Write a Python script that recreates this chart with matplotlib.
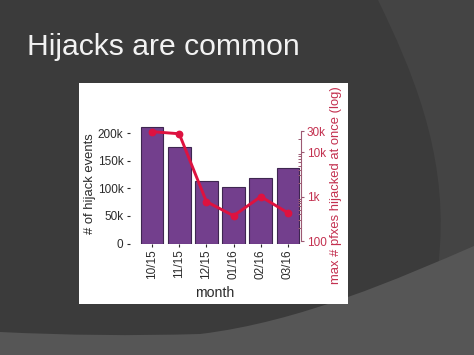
import matplotlib
matplotlib.use("Agg")
import matplotlib.pyplot as plt
from matplotlib.patches import Rectangle, PathPatch
from matplotlib.path import Path
from matplotlib.ticker import FixedLocator, FuncFormatter
import numpy as np

plt.rcParams['font.family'] = ['Liberation Sans', 'DejaVu Sans']

months = ["10/15", "11/15", "12/15", "01/16", "02/16", "03/16"]
hijack_events = [212000, 176000, 113000, 102000, 119000, 138000]
max_pfxes = [29000, 26000, 770, 370, 1000, 430]
left_ticks = [0, 50000, 100000, 150000, 200000]
left_labels = ["0", "50k", "100k", "150k", "200k"]
right_ticks = [100, 1000, 10000, 30000]
right_labels = ["100", "1k", "10k", "30k"]

W, H = 474, 355
fig = plt.figure(figsize=(W / 100, H / 100), dpi=100)
fig.patch.set_facecolor('#3b3b3b')

def fx(x):
    return x / W

def fy(y):
    return 1 - y / H

def P(x, y):
    return (fx(x), fy(y))

# background decorative shapes (smooth curves)
arc_verts = [P(378, 0), P(412, 70), P(446, 150), P(440, 245),
             P(436, 300), P(474, 300), P(474, 0), P(378, 0)]
arc_codes = [Path.MOVETO, Path.CURVE4, Path.CURVE4, Path.CURVE4,
             Path.LINETO, Path.LINETO, Path.LINETO, Path.CLOSEPOLY]
fig.patches.append(PathPatch(Path(arc_verts, arc_codes), transform=fig.transFigure,
                             facecolor='#444444', edgecolor='none', zorder=0))
band_verts = [P(0, 332), P(100, 337), P(200, 334),
              P(300, 322), P(400, 278), P(474, 246),
              P(474, 355), P(0, 355), P(0, 332)]
band_codes = [Path.MOVETO, Path.CURVE3, Path.CURVE3,
              Path.CURVE4, Path.CURVE4, Path.CURVE4,
              Path.LINETO, Path.LINETO, Path.CLOSEPOLY]
fig.patches.append(PathPatch(Path(band_verts, band_codes), transform=fig.transFigure,
                             facecolor='#565656', edgecolor='none', zorder=0))

# white panel
fig.patches.append(Rectangle(P(79, 304), fx(348) - fx(79), fy(83) - fy(304),
                             transform=fig.transFigure, facecolor='white',
                             edgecolor='none', zorder=1))

fig.text(fx(27), fy(55), "Hijacks are common", color='#f2f2f2', fontsize=21.7,
         ha='left', va='baseline')

# axes
axl, axr, ayt, ayb = 130, 300.5, 122, 243.5
ax = fig.add_axes([fx(axl), fy(ayb), fx(axr) - fx(axl), fy(ayt) - fy(ayb)])
ax.set_zorder(2)
ax.patch.set_visible(False)

x = np.arange(len(months))
ax.bar(x, hijack_events, width=0.835, color='#733f8d', edgecolor='#3e2650', linewidth=0.8)
ax.set_xlim(-0.809, 5.46)
ax.set_ylim(0, 220900)
for s in ['top', 'right', 'left', 'bottom']:
    ax.spines[s].set_visible(False)
ax.set_yticks(left_ticks)
ax.set_yticklabels(left_labels)
ax.set_xticks(x)
ax.set_xticklabels(months, rotation=90)
ax.tick_params(axis='y', length=2.2, width=0.8, pad=2.5, labelsize=8.5, colors='#2b2b2b')
ax.tick_params(axis='x', length=2.2, width=0.8, pad=2.0, labelsize=8.5, colors='#2b2b2b')

ax2 = ax.twinx()
ax2.set_yscale('log')
ax2.set_ylim(10 ** 1.9437, 10 ** 4.680)
ax2.plot(x, max_pfxes, color='#dd1240', linewidth=2.1, marker='o', markersize=4.6)
for s in ['top', 'left', 'bottom']:
    ax2.spines[s].set_visible(False)
ax2.spines['right'].set_bounds(100, 30000)
ax2.spines['right'].set_color('#9c5a72')
ax2.spines['right'].set_linewidth(0.8)
ax2.yaxis.set_major_locator(FixedLocator(right_ticks))
ax2.yaxis.set_major_formatter(FuncFormatter(lambda v, p: right_labels[right_ticks.index(v)] if v in right_ticks else ""))
minor = [m * d for d in (100, 1000) for m in range(2, 10)] + [20000]
ax2.yaxis.set_minor_locator(FixedLocator(minor))
ax2.yaxis.set_minor_formatter(FuncFormatter(lambda v, p: ""))
ax2.tick_params(axis='y', which='major', length=2.2, width=0.8, pad=2.5, labelsize=8.5,
                colors='#9c5a72', labelcolor='#c3304f')
ax2.tick_params(axis='y', which='minor', direction='in', length=2.0, width=0.7, colors='#9c5a72')

fig.text(fx(90), fy(184), "# of hijack events", rotation=90, fontsize=9.4,
         color='#2b2b2b', ha='center', va='center')
fig.text(fx(215), fy(293), "month", fontsize=10.2, color='#2b2b2b', ha='center', va='center')
fig.text(fx(336), fy(185), "max # pfxes hijacked at once (log)", rotation=90, fontsize=9.4,
         color='#c3304f', ha='center', va='center')

fig.savefig("out.png", dpi=100, facecolor=fig.get_facecolor())
